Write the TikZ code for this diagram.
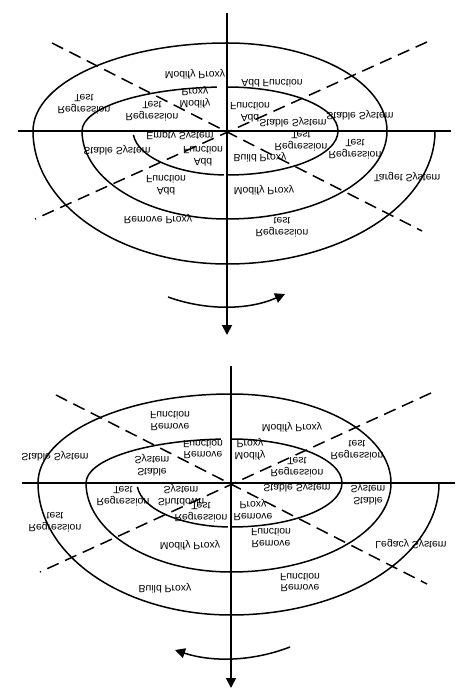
\documentclass[tikz,border=0pt]{standalone}
\usepackage{fontspec}
\setmainfont{Liberation Sans}
\usetikzlibrary{arrows.meta}

\begin{document}
\begin{tikzpicture}[x=1pt, y=1pt, yscale=-1,
    lbl/.style={font=\fontsize{10.4}{11.8}\selectfont, align=center, inner sep=0pt, transform shape},
    spiral/.style={line width=1.5pt},
    axisline/.style={line width=1.8pt},
    sector/.style={line width=1.5pt, dash pattern=on 12.5pt off 7pt},
    headarrow/.style={-{Triangle[width=10pt,length=10pt]}}]

    \useasboundingbox (0,0) rectangle (474,695);

    \begin{scope}[shift={(227,131)}]
        \draw[sector] (-175,-88) -- (195,100);
        \draw[sector] (200,-89) -- (-192,88);
        \draw[axisline] (-209,0) -- (224,0);
        \draw[axisline, headarrow] (0,-118) -- (0,204);

        \draw[spiral] (-93.6,3.8) arc[start angle=175, end angle=92, x radius=94, y radius=44];
        \draw[spiral] (0,44) arc[start angle=90, end angle=-90, x radius=111, y radius=44];
        \draw[spiral] (-10.1,-43.9) arc[start angle=266, end angle=180, x radius=145, y radius=44]
            arc[start angle=180, end angle=90, x radius=145, y radius=88]
            arc[start angle=90, end angle=-90, x radius=160, y radius=88]
            arc[start angle=270, end angle=180, x radius=194, y radius=88]
            arc[start angle=180, end angle=90, x radius=194, y radius=133]
            arc[start angle=90, end angle=0, x radius=208, y radius=133];

        \draw[spiral, headarrow] (-59,166) .. controls (-20,180) and (22,179) .. (58,163);

        \node[lbl] (umodproxy1) at (-32,-57) {Modify Proxy};
        \node[lbl] (uaddfunc1) at (45,-48) {Add Function};
        \node[lbl] (umodproxy2) at (-32,-33.5) {Modify\\Proxy};
        \node[lbl] (uregtest1) at (-143,-27) {Regression\\Test};
        \node[lbl] (uregtest2) at (-75,-20) {Regression\\Test};
        \node[lbl] (uaddfunc2) at (23,-19) {Add\\Function};
        \node[lbl] (ustable1) at (66,-9) {Stable System};
        \node[lbl] (ustable2) at (133,-16) {Stable System};
        \node[lbl] (uempty) at (-47,4) {Empty System};
        \node[lbl] (uregtest3) at (74,10) {Regression\\Test};
        \node[lbl] (uregtest4) at (128,18) {Regression\\Test};
        \node[lbl] (ustable3) at (-110,19) {Stable System};
        \node[lbl] (uaddfunc3) at (-24,25) {Add\\Function};
        \node[lbl] (ubuildproxy) at (33,26) {Build Proxy};
        \node[lbl] (utarget) at (180,46) {Target System};
        \node[lbl] (uaddfunc4) at (-61,54) {Add\\Function};
        \node[lbl] (umodproxy3) at (37,59) {Modify Proxy};
        \node[lbl] (uremproxy) at (-69,88) {Remove Proxy};
        \node[lbl] (uregtest5) at (55,96) {Regression\\test};
    \end{scope}

    \begin{scope}[shift={(231,483)}]
        \draw[sector] (-175,-88) -- (196,101);
        \draw[sector] (200,-90) -- (-191,89);
        \draw[axisline] (-209,0) -- (224,0);
        \draw[axisline, headarrow] (0,-117) -- (0,205);

        \draw[spiral] (-93.6,3.8) arc[start angle=175, end angle=92, x radius=94, y radius=44];
        \draw[spiral] (0,44) arc[start angle=90, end angle=-90, x radius=111, y radius=44];
        \draw[spiral] (-10.1,-43.9) arc[start angle=266, end angle=180, x radius=145, y radius=44]
            arc[start angle=180, end angle=90, x radius=145, y radius=89]
            arc[start angle=90, end angle=-90, x radius=160, y radius=89]
            arc[start angle=270, end angle=180, x radius=193, y radius=89]
            arc[start angle=180, end angle=90, x radius=193, y radius=132]
            arc[start angle=90, end angle=0, x radius=208, y radius=132];

        \draw[spiral, headarrow] (59,164) .. controls (20,179) and (-20,179) .. (-56,167);

        \node[lbl] (lremfunc1) at (-61,-62) {Remove\\Function};
        \node[lbl] (lmodproxy1) at (61,-56) {Modify Proxy};
        \node[lbl] (lremfunc2) at (-28,-33.5) {Remove\\Function};
        \node[lbl] (lmodproxy2) at (19,-33.5) {Modify\\Proxy};
        \node[lbl] (lregtest1) at (126,-33) {Regression\\test};
        \node[lbl] (lstable1) at (-176,-27) {Stable System};
        \node[lbl] (lstable2) at (-79,-18) {Stable\\System};
        \node[lbl] (lregtest2) at (66,-15.5) {Regression\\Test};
        \node[lbl] (lstable3) at (66,4) {Stable System};
        \node[lbl] (lstable4) at (137,11) {Stable\\System};
        \node[lbl] (lregtest3) at (-108,13.5) {Regression\\Test};
        \node[lbl] (lshutdown) at (-50,12.5) {Shutdown\\System};
        \node[lbl] (lregtest4) at (-30,29.5) {Regression\\Test};
        \node[lbl] (lremproxy) at (22,27) {Remove\\Proxy};
        \node[lbl] (lregtest5) at (-176,39.5) {Regression\\test};
        \node[lbl] (lremfunc3) at (40,55) {Remove\\Function};
        \node[lbl] (lmodproxy3) at (-41,62) {Modify Proxy};
        \node[lbl] (llegacy) at (180,61) {Legacy System};
        \node[lbl] (lremfunc4) at (69,99.5) {Remove\\Function};
        \node[lbl] (lbuildproxy) at (-66,105) {Build Proxy};
    \end{scope}
\end{tikzpicture}
\end{document}
